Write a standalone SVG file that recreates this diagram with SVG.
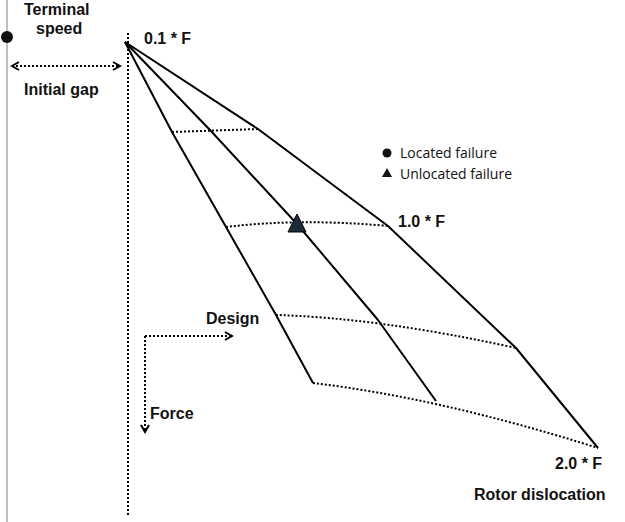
<svg xmlns="http://www.w3.org/2000/svg" width="625" height="522" viewBox="0 0 625 522">
<style>
.t{font-family:"Liberation Sans",Arial,sans-serif;font-weight:bold;font-size:16px;fill:#111}
.l{font-family:"Open Sans","Liberation Sans",sans-serif;font-size:14px;fill:#111}
.s{stroke:#000;stroke-width:2;fill:none;stroke-linejoin:round}
.d{stroke:#000;stroke-width:2;stroke-dasharray:2 2;fill:none}
</style>
<defs><marker id="a" markerWidth="10" markerHeight="10" refX="8" refY="5" orient="auto-start-reverse" markerUnits="userSpaceOnUse"><path d="M1,1 L8,5 L1,9" fill="none" stroke="#000" stroke-width="2"/></marker></defs>
<rect width="625" height="522" fill="#fff"/>
<line x1="7" y1="0" x2="7" y2="522" stroke="#aaa" stroke-width="1.5"/>
<g id="connectors">
<line class="d" x1="128" y1="33" x2="128" y2="516"/>
<line class="d" x1="12" y1="66" x2="120" y2="66" marker-end="url(#a)" marker-start="url(#a)"/>
<line class="d" x1="145" y1="336" x2="232" y2="336" marker-end="url(#a)"/>
<line class="d" x1="145" y1="336" x2="145" y2="432" marker-end="url(#a)"/>
<polyline class="s" points="125,42 172,132 226,227 276,315 313,383"/>
<polyline class="s" points="125,42 210,130 297,224 378,320 436,401"/>
<polyline class="s" points="125,42 258,129 388,226 516,348 598,448"/>
<path class="d" d="M172,132 L258,129"/>
<path class="d" d="M226,227 Q300,218 388,226"/>
<path class="d" d="M276,315 Q380,318 516,348"/>
<path class="d" d="M313,383 Q440,398 598,448"/>
</g>
<g id="n-dot"><circle cx="7" cy="37" r="6" fill="#111"/></g>
<g id="n-tri"><polygon points="297,214 288,232 306,232" fill="#1c2a3a" stroke="#000"/></g>
<g id="labels">
<text class="t" x="24" y="15">Terminal</text>
<text class="t" x="36" y="34">speed</text>
<text class="t" x="24" y="95">Initial gap</text>
<text class="t" x="144" y="44">0.1 * F</text>
<text class="t" x="398" y="227">1.0 * F</text>
<text class="t" x="206" y="324">Design</text>
<text class="t" x="150" y="419">Force</text>
<text class="t" x="555" y="469">2.0 * F</text>
<text class="t" x="474" y="500">Rotor dislocation</text>
</g>
<g id="legend">
<circle cx="387" cy="153" r="4.5" fill="#111"/>
<text class="l" x="400" y="158">Located failure</text>
<polygon points="387,168 382,177 392,177" fill="#111"/>
<text class="l" x="400" y="179">Unlocated failure</text>
</g>
</svg>
